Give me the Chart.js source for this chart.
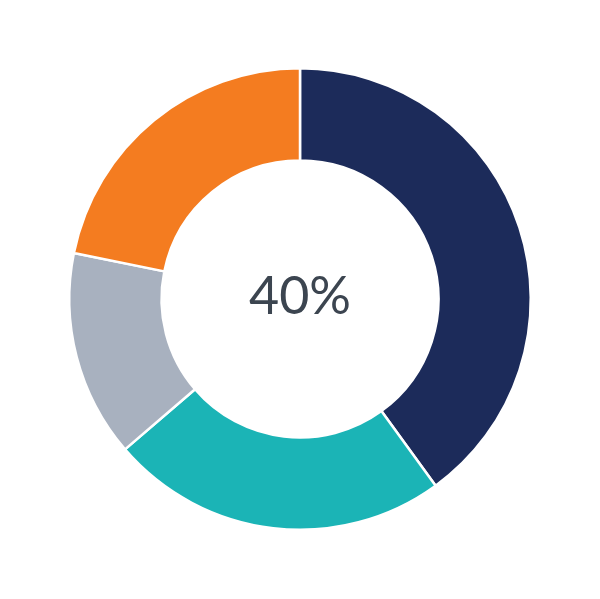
<!DOCTYPE html>
<html>
<head>
<meta charset="utf-8">
<script src="https://cdn.jsdelivr.net/npm/chart.js@4"></script>
<style>
html,body{margin:0;padding:0;background:#fff;}
#wrap{position:relative;width:600px;height:599px;}
#center{position:absolute;left:0;top:-6px;width:600px;height:599px;display:flex;align-items:center;justify-content:center;font-family:Lato,"Open Sans",sans-serif;font-size:52px;color:#3c4550;pointer-events:none;}
</style>
</head>
<body>
<div id="wrap">
<canvas id="c" width="600" height="599"></canvas>
<div id="center">40%</div>
</div>
<script>
const categories = ["Navy", "Teal", "Grey", "Orange"];
const values = [40, 23.7, 14.5, 21.8];
const colors = ["#1c2b5a", "#1bb4b6", "#a8b1bf", "#f47c20"];

new Chart(document.getElementById('c'), {
  type: 'doughnut',
  data: {
    labels: categories,
    datasets: [{
      data: values,
      backgroundColor: colors,
      borderColor: '#ffffff',
      borderWidth: 2.5,
      hoverOffset: 0
    }]
  },
  options: {
    responsive: false,
    animation: false,
    cutout: '60%',
    layout: { padding: { top: 67, bottom: 68, left: 67, right: 67 } },
    plugins: { legend: { display: false }, tooltip: { enabled: false } },
    events: []
  }
});
</script>
</body>
</html>
